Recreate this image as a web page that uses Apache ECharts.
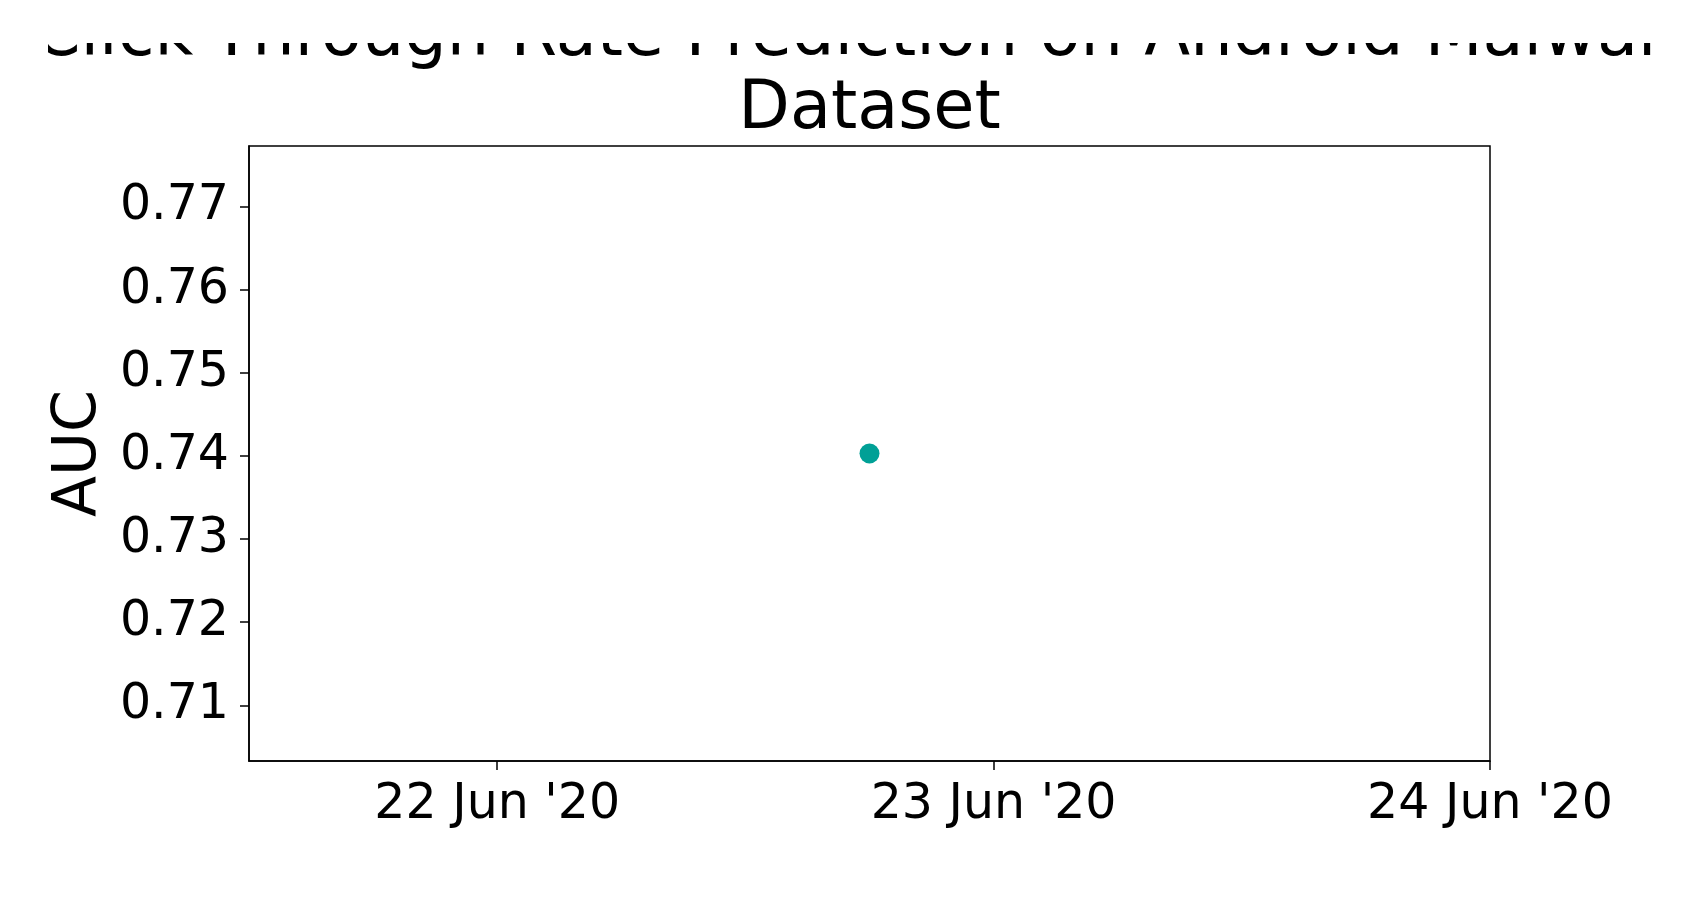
<!DOCTYPE html>
<html>
<head>
<meta charset="utf-8">
<script src="https://cdn.jsdelivr.net/npm/echarts@6/dist/echarts.min.js"></script>
<style>
  html, body { margin: 0; padding: 0; background: #fff; }
  #chart { width: 1700px; height: 900px; }
</style>
</head>
<body>
<div id="chart"></div>
<script>
// ---- data ----
const titleLines = ['Click-Through Rate Prediction on Android Malware', 'Dataset'];
const yAxisName = 'AUC';
const pointDates = ['2020-06-22T18:00:00Z'];
const aucValues = [0.7403];
const xTickDates = ['2020-06-22T00:00:00Z', '2020-06-23T00:00:00Z', '2020-06-24T00:00:00Z'];
const xTickLabels = ["22 Jun '20", "23 Jun '20", "24 Jun '20"];
const yTicks = [0.71, 0.72, 0.73, 0.74, 0.75, 0.76, 0.77];
const xRange = ['2020-06-21T12:00:00Z', '2020-06-24T00:00:00Z'];
const yRange = [0.7033, 0.7773];

const FONT = '"DejaVu Sans", sans-serif';
const xTickValues = xTickDates.map(d => Date.parse(d));
const seriesData = pointDates.map((d, i) => [Date.parse(d), aucValues[i]]);

const chart = echarts.init(document.getElementById('chart'), null, { renderer: 'canvas' });
chart.setOption({
  animation: false,
  backgroundColor: '#ffffff',
  grid: {
    left: 249, right: 210, top: 146, bottom: 139,
    show: true, borderColor: '#000', borderWidth: 1.5, backgroundColor: 'transparent'
  },
  graphic: [
    { type: 'text', z: 100, style: { x: 869.5, y: 37.2, text: titleLines[0], align: 'center', verticalAlign: 'middle',
        font: '67px ' + FONT, fill: '#000' } },
    { type: 'text', z: 100, style: { x: 869.5, y: 110.3, text: titleLines[1], align: 'center', verticalAlign: 'middle',
        font: '67px ' + FONT, fill: '#000' } },
    { type: 'rect', z: 101, shape: { x: 0, y: 0, width: 1700, height: 43 }, style: { fill: '#fff' } },
    { type: 'rect', z: 101, shape: { x: 0, y: 0, width: 48, height: 76 }, style: { fill: '#fff' } },
    { type: 'rect', z: 101, shape: { x: 1652, y: 0, width: 48, height: 76 }, style: { fill: '#fff' } }
  ],
  xAxis: {
    type: 'value',
    min: Date.parse(xRange[0]),
    max: Date.parse(xRange[1]),
    splitLine: { show: false },
    axisLine: { show: true, lineStyle: { color: '#000', width: 1.5 } },
    axisTick: { show: true, customValues: xTickValues, length: 9, lineStyle: { color: '#000', width: 1.5 } },
    axisLabel: {
      customValues: xTickValues,
      margin: 20,
      fontFamily: FONT, fontSize: 49, lineHeight: 49, color: '#000',
      formatter: function (v) {
        const i = xTickValues.indexOf(Number(v));
        return i >= 0 ? xTickLabels[i] : '';
      }
    }
  },
  yAxis: {
    type: 'value',
    min: yRange[0],
    max: yRange[1],
    name: yAxisName,
    nameLocation: 'middle',
    nameRotate: 90,
    nameGap: 140,
    nameTextStyle: { fontFamily: FONT, fontSize: 60, lineHeight: 60, color: '#000' },
    splitLine: { show: false },
    axisLine: { show: true, lineStyle: { color: '#000', width: 1.5 } },
    axisTick: { show: true, customValues: yTicks, length: 9, lineStyle: { color: '#000', width: 1.5 } },
    axisLabel: {
      customValues: yTicks,
      margin: 20,
      fontFamily: FONT, fontSize: 49, lineHeight: 49, color: '#000',
      formatter: v => Number(v).toFixed(2)
    }
  },
  series: [{
    type: 'scatter',
    data: seriesData,
    symbol: 'circle',
    symbolSize: 20,
    itemStyle: { color: '#00a096', opacity: 1 }
  }]
});
</script>
</body>
</html>
